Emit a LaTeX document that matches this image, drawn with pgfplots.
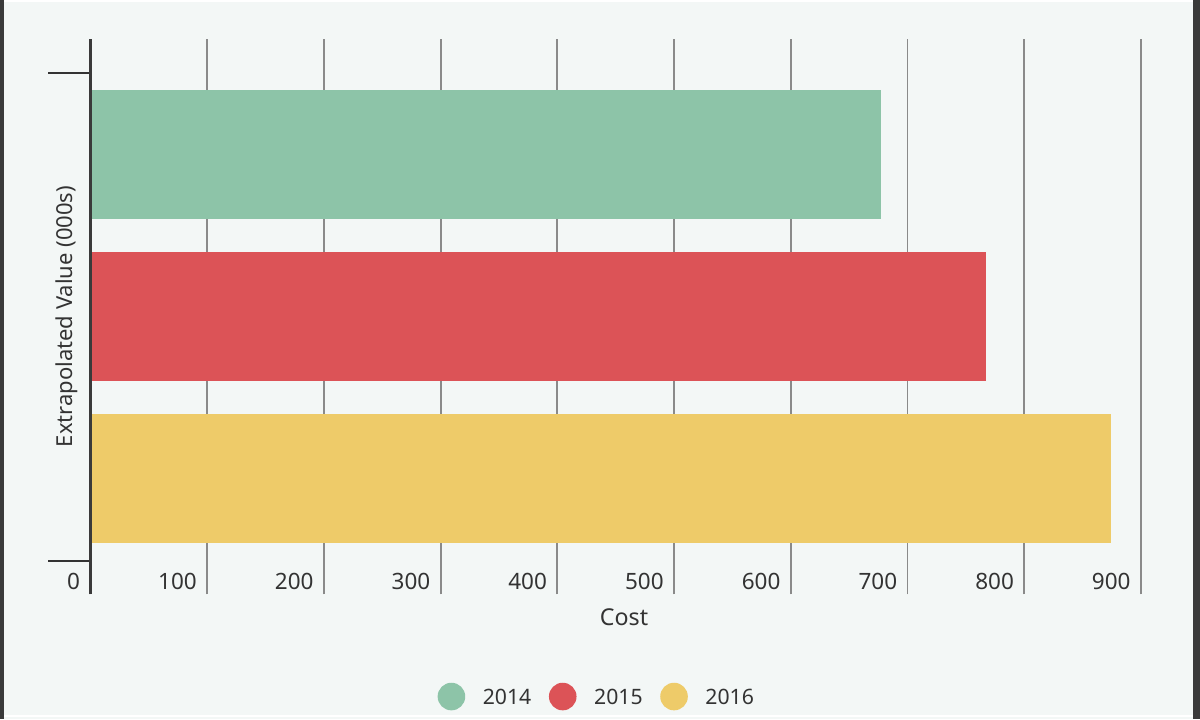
\documentclass[border=0pt]{standalone}
\usepackage{fontspec}
\setmainfont{Noto Sans}
\usepackage{pgfplots}
\pgfplotsset{compat=1.18}
\definecolor{bg}{HTML}{F3F7F6}
\definecolor{frame}{HTML}{3A3A3A}
\definecolor{txt}{HTML}{333333}
\definecolor{gridgray}{HTML}{8A8A8A}
\definecolor{c14}{HTML}{8DC4A8}
\definecolor{c15}{HTML}{DC5357}
\definecolor{c16}{HTML}{EECB69}
\pgfplotsset{
  circle legend/.style={legend image code/.code={\fill[##1] (6.9pt,0.9pt) circle (6.9pt);}},
}
\begin{document}
\begin{tikzpicture}
\path[use as bounding box] (0,0) rectangle (600pt,-359.5pt);
\fill[bg] (0,0) rectangle (600pt,-359.5pt);
\fill[frame] (0,0) rectangle (2pt,-359.5pt);
\fill[frame] (596.4pt,0) rectangle (600pt,-359.5pt);
\draw[white, line width=0.6pt] (2pt,-358pt) -- (596.4pt,-358pt);
\draw[white, line width=0.6pt] (2pt,-0.5pt) -- (596.4pt,-0.5pt);
\begin{axis}[
  at={(45.25pt,-19.35pt)}, anchor=north west,
  scale only axis, width=525.25pt, height=277.8pt,
  xmin=0, xmax=900, ymin=0.286, ymax=3.713,
  clip=false,
  axis y line*=left, axis x line*=bottom,
  x axis line style={draw=none}, y axis line style={draw=none},
  xtick={0,100,...,900},
  ytick={0.49,3.5}, yticklabels={},
  xmajorgrids, grid style={draw=gridgray, line width=0.9pt},
  major x tick style={draw=none},
  major y tick style={draw=txt, line width=1pt},
  ytick pos=left,
  tick align=outside, major tick length=21pt,
  /pgf/number format/assume math mode=true,
  tick label style={font=\fontsize{11.25}{13}\selectfont, text=txt},
  xticklabel style={anchor=base east, inner sep=0pt, xshift=-5pt, yshift=23.5pt},
  xlabel={Cost},
  every axis x label/.style={at={(axis description cs:0.5079,-0.0553)}, anchor=base, font=\fontsize{11.6}{14}\selectfont, text=txt},
  ylabel={Extrapolated Value (000s)},
  every axis y label/.style={at={(axis description cs:-0.01666,0.5)}, rotate=90, anchor=base, font=\fontsize{11}{13}\selectfont, text=txt},
  legend columns=3,
  legend style={draw=none, fill=none, inner sep=0pt,
    at={(axis description cs:0.481,-0.184)}, anchor=center,
    font=\fontsize{10.6}{13}\selectfont, text=txt,
    nodes={inner sep=0pt},
    /tikz/every odd column/.append style={column sep=8.8pt},
    /tikz/every even column/.append style={column sep=8.8pt}},
]
\addplot[xbar, bar shift=0pt, bar width=0.794, fill=c14, draw=none, circle legend] coordinates {(677,3)};
\addlegendentry{2014}
\addplot[xbar, bar shift=0pt, bar width=0.794, fill=c15, draw=none, circle legend] coordinates {(767,2)};
\addlegendentry{2015}
\addplot[xbar, bar shift=0pt, bar width=0.794, fill=c16, draw=none, circle legend] coordinates {(874,1)};
\addlegendentry{2016}
\draw[frame, line width=1.85pt] (rel axis cs:0,0) -- (rel axis cs:0,1);
\end{axis}
\end{tikzpicture}
\end{document}
